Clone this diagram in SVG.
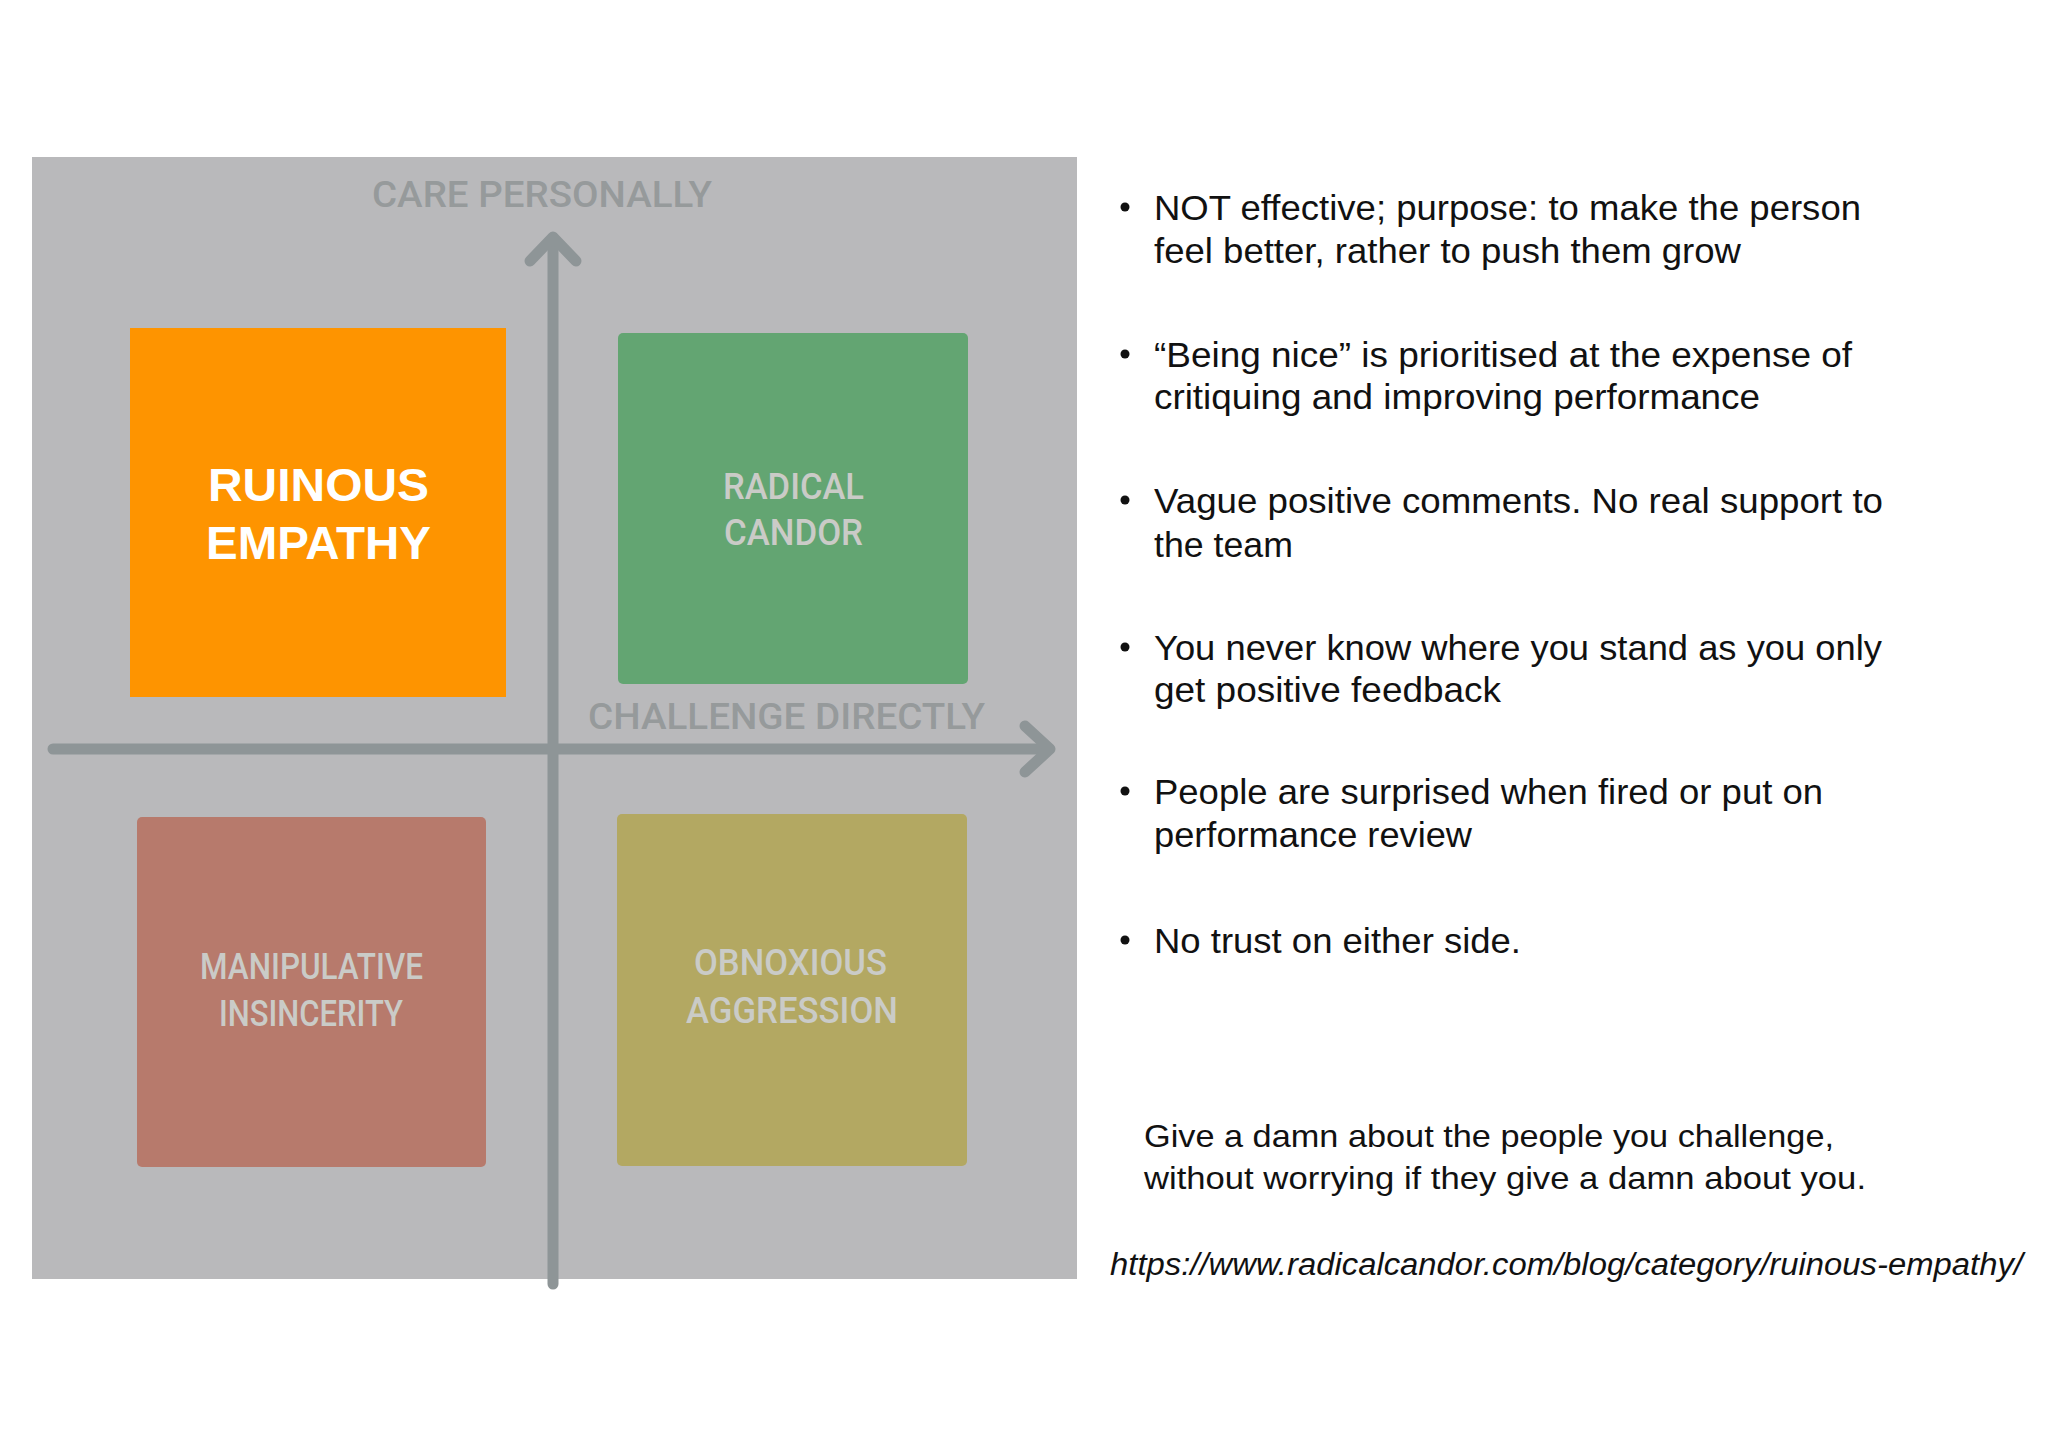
<svg xmlns="http://www.w3.org/2000/svg" width="2048" height="1448" viewBox="0 0 2048 1448">
<style>
.axis{stroke:#8e9597;stroke-width:11;stroke-linecap:round;stroke-linejoin:round;fill:none}
.axlbl{font-family:Roboto,"Liberation Sans",sans-serif;font-size:37px;font-weight:500;fill:#969a9b}
.qlbl{font-family:Roboto,"Liberation Sans",sans-serif;font-size:36px;font-weight:500;fill:#cacbc7}
.big{font-family:"Liberation Sans",Arial,sans-serif;font-size:46px;font-weight:bold;fill:#ffffff}
.txt{font-family:"Liberation Sans",Arial,sans-serif;font-size:35px;fill:#111111}
.quote{font-family:"Liberation Sans",Arial,sans-serif;font-size:32px;fill:#111111}
.url{font-family:"Liberation Sans",Arial,sans-serif;font-size:31px;font-style:italic;fill:#111111}
</style>
<rect width="2048" height="1448" fill="#ffffff"/>
<g id="panel">
<rect x="32" y="157" width="1045" height="1122" fill="#b9b9bb"/>
</g>
<g id="quadrant-ruinous-empathy">
<rect x="130" y="328" width="376" height="369" fill="#fe9400"/>
<text class="big" x="208" y="501" textLength="221" lengthAdjust="spacingAndGlyphs">RUINOUS</text>
<text class="big" x="206" y="559" textLength="225" lengthAdjust="spacingAndGlyphs">EMPATHY</text>
</g>
<g id="quadrant-radical-candor">
<rect x="618" y="333" width="350" height="351" rx="5" fill="#63a572"/>
<text class="qlbl" x="723" y="499" textLength="141" lengthAdjust="spacingAndGlyphs">RADICAL</text>
<text class="qlbl" x="724" y="545" textLength="139" lengthAdjust="spacingAndGlyphs">CANDOR</text>
</g>
<g id="quadrant-manipulative-insincerity">
<rect x="137" y="817" width="349" height="350" rx="5" fill="#b77a6c"/>
<text class="qlbl" x="200" y="979" textLength="223" lengthAdjust="spacingAndGlyphs">MANIPULATIVE</text>
<text class="qlbl" x="219" y="1026" textLength="184" lengthAdjust="spacingAndGlyphs">INSINCERITY</text>
</g>
<g id="quadrant-obnoxious-aggression">
<rect x="617" y="814" width="350" height="352" rx="5" fill="#b3a862"/>
<text class="qlbl" x="694" y="975" textLength="193" lengthAdjust="spacingAndGlyphs">OBNOXIOUS</text>
<text class="qlbl" x="686" y="1023" textLength="212" lengthAdjust="spacingAndGlyphs">AGGRESSION</text>
</g>
<g id="connectors">
<line class="axis" x1="53" y1="749" x2="1046" y2="749"/>
<polyline class="axis" points="1025,726 1050,749 1025,772"/>
<line class="axis" x1="553" y1="240" x2="553" y2="1284"/>
<polyline class="axis" points="530,261 553,237 576,261"/>
</g>
<g id="axis-labels">
<text class="axlbl" x="372" y="207" textLength="340" lengthAdjust="spacingAndGlyphs">CARE PERSONALLY</text>
<text class="axlbl" x="588" y="729" textLength="397" lengthAdjust="spacingAndGlyphs">CHALLENGE DIRECTLY</text>
</g>
<g id="bullets">
<g fill="#111111">
<circle cx="1125" cy="207" r="4.5"/>
<circle cx="1125" cy="354" r="4.5"/>
<circle cx="1125" cy="500" r="4.5"/>
<circle cx="1125" cy="647" r="4.5"/>
<circle cx="1125" cy="791" r="4.5"/>
<circle cx="1125" cy="940" r="4.5"/>
</g>
<text class="txt" x="1154" y="220" textLength="707" lengthAdjust="spacingAndGlyphs">NOT effective; purpose: to make the person</text>
<text class="txt" x="1154" y="263" textLength="587" lengthAdjust="spacingAndGlyphs">feel better, rather to push them grow</text>
<text class="txt" x="1154" y="367" textLength="698" lengthAdjust="spacingAndGlyphs">“Being nice” is prioritised at the expense of</text>
<text class="txt" x="1154" y="409" textLength="606" lengthAdjust="spacingAndGlyphs">critiquing and improving performance</text>
<text class="txt" x="1154" y="513" textLength="729" lengthAdjust="spacingAndGlyphs">Vague positive comments. No real support to</text>
<text class="txt" x="1154" y="557" textLength="139" lengthAdjust="spacingAndGlyphs">the team</text>
<text class="txt" x="1154" y="660" textLength="728" lengthAdjust="spacingAndGlyphs">You never know where you stand as you only</text>
<text class="txt" x="1154" y="702" textLength="347" lengthAdjust="spacingAndGlyphs">get positive feedback</text>
<text class="txt" x="1154" y="804" textLength="669" lengthAdjust="spacingAndGlyphs">People are surprised when fired or put on</text>
<text class="txt" x="1154" y="847" textLength="318" lengthAdjust="spacingAndGlyphs">performance review</text>
<text class="txt" x="1154" y="953" textLength="367" lengthAdjust="spacingAndGlyphs">No trust on either side.</text>
</g>
<g id="quote">
<text class="quote" x="1144" y="1147" textLength="690" lengthAdjust="spacingAndGlyphs">Give a damn about the people you challenge,</text>
<text class="quote" x="1144" y="1189" textLength="722" lengthAdjust="spacingAndGlyphs">without worrying if they give a damn about you.</text>
</g>
<g id="source">
<text class="url" x="1110" y="1275" textLength="913" lengthAdjust="spacingAndGlyphs">https://www.radicalcandor.com/blog/category/ruinous-empathy/</text>
</g>
</svg>
